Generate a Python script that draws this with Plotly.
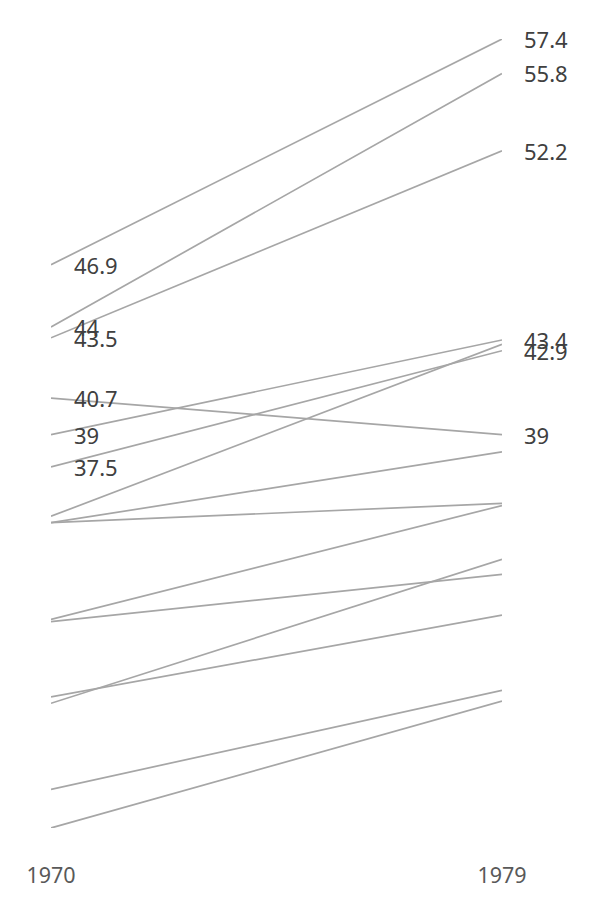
import plotly.graph_objects as go

# receipts of government as % of GDP
countries = ['Sweden', 'Netherlands', 'Norway', 'Britain', 'France', 'Germany',
             'Belgium', 'Canada', 'Finland', 'Italy', 'United States', 'Greece',
             'Switzerland', 'Spain', 'Japan']
v1970 = [46.9, 44.0, 43.5, 40.7, 39.0, 37.5, 35.2, 34.9, 34.9, 30.4, 30.3, 26.8, 26.5, 22.5, 20.7]
v1979 = [57.4, 55.8, 52.2, 39.0, 43.4, 42.9, 43.2, 35.8, 38.2, 35.7, 32.5, 30.6, 33.2, 27.1, 26.6]
years = [1970, 1979]
year_labels = ['1970', '1979']
n_labeled = 6

fig = go.Figure()

for i, c in enumerate(countries):
    fig.add_trace(go.Scatter(x=years, y=[v1970[i], v1979[i]], mode='lines', name=c,
                             line=dict(color='#a6a6a6', width=1.7),
                             cliponaxis=False, showlegend=False))

# value labels only for the first few countries
for i in range(n_labeled):
    fig.add_annotation(x=years[0], y=v1970[i], text='{:g}'.format(v1970[i]),
                       xanchor='left', yanchor='middle', xshift=21, showarrow=False,
                       font=dict(size=22, color='#404040'))
    fig.add_annotation(x=years[1], y=v1979[i], text='{:g}'.format(v1979[i]),
                       xanchor='left', yanchor='middle', xshift=20, showarrow=False,
                       font=dict(size=22, color='#404040'))

fig.update_layout(
    width=601, height=917,
    margin=dict(l=43, r=107, t=31, b=97),
    plot_bgcolor='white', paper_bgcolor='white',
    font=dict(family='Noto Sans, Open Sans, sans-serif'),
    xaxis=dict(range=[1970, 1979], tickvals=years, ticktext=year_labels,
               showgrid=False, zeroline=False, showline=False, ticks='',
               ticklabelstandoff=32, tickfont=dict(size=21.5, color='#595959')),
    yaxis=dict(range=[20.7, 57.4], showgrid=False, zeroline=False,
               showline=False, showticklabels=False, ticks=''),
)

fig.write_html("out.html")
